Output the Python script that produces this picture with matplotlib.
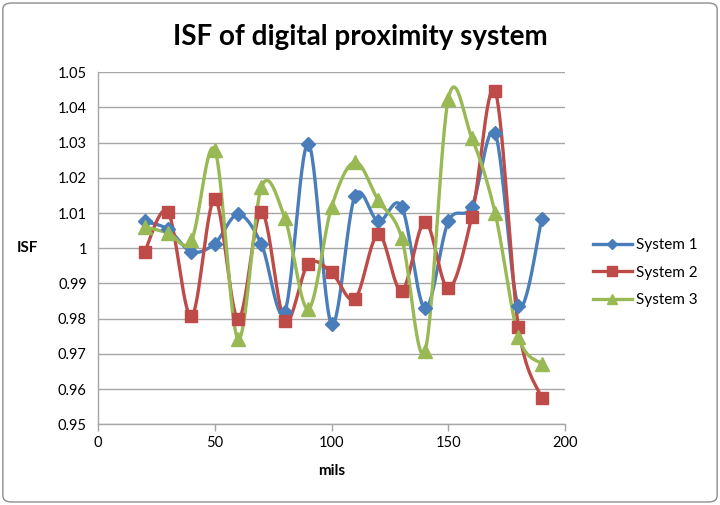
import numpy as np
import matplotlib
matplotlib.use("Agg")
import matplotlib.pyplot as plt
from matplotlib.patches import FancyBboxPatch

x_mils = [20, 30, 40, 50, 60, 70, 80, 90, 100, 110, 120, 130, 140, 150, 160, 170, 180, 190]
system1 = [1.0076, 1.0054, 0.9990, 1.0013, 1.0096, 1.0011, 0.9820, 1.0297, 0.9785, 1.0148,
           1.0076, 1.0118, 0.9829, 1.0076, 1.0118, 1.0326, 0.9837, 1.0084]
system2 = [0.9990, 1.0103, 0.9806, 1.0139, 0.9799, 1.0103, 0.9794, 0.9955, 0.9931, 0.9856,
           1.0040, 0.9879, 1.0075, 0.9886, 1.0089, 1.0446, 0.9775, 0.9574]
system3 = [1.0061, 1.0044, 1.0022, 1.0280, 0.9742, 1.0174, 1.0086, 0.9827, 1.0117, 1.0245,
           1.0136, 1.0030, 0.9708, 1.0425, 1.0314, 1.0100, 0.9749, 0.9671]
series_names = ["System 1", "System 2", "System 3"]
x_ticks = [0, 50, 100, 150, 200]
y_ticks = [0.95, 0.96, 0.97, 0.98, 0.99, 1.00, 1.01, 1.02, 1.03, 1.04, 1.05]
y_tick_labels = ["0.95", "0.96", "0.97", "0.98", "0.99", "1", "1.01", "1.02", "1.03", "1.04", "1.05"]

FONT = ["Lato", "DejaVu Sans"]
plt.rcParams["font.family"] = FONT


def smooth(xs, ys, n=30):
    xs = np.asarray(xs, float)
    ys = np.asarray(ys, float)
    px = np.concatenate([[xs[0]], xs, [xs[-1]]])
    py = np.concatenate([[ys[0]], ys, [ys[-1]]])
    ox, oy = [], []
    t = np.linspace(0, 1, n)
    for i in range(1, len(px) - 2):
        p0 = np.array([px[i], py[i]])
        p3 = np.array([px[i + 1], py[i + 1]])
        c1 = p0 + (np.array([px[i + 1], py[i + 1]]) - np.array([px[i - 1], py[i - 1]])) / 6
        c2 = p3 - (np.array([px[i + 2], py[i + 2]]) - np.array([px[i], py[i]])) / 6
        b = ((1 - t) ** 3)[:, None] * p0 + (3 * (1 - t) ** 2 * t)[:, None] * c1 \
            + (3 * (1 - t) * t ** 2)[:, None] * c2 + (t ** 3)[:, None] * p3
        ox.extend(b[:, 0]); oy.extend(b[:, 1])
    return ox, oy


fig = plt.figure(figsize=(7.2, 5.05), dpi=100)
border = FancyBboxPatch((0.004, 0.006), 0.992, 0.988, boxstyle="round,pad=0,rounding_size=0.012",
                        transform=fig.transFigure, fill=False, edgecolor="#8c8c8c", linewidth=1.0)
fig.patches.append(border)

ax = fig.add_axes([0.136, 0.160, 0.649, 0.697])

colors = ["#4A7EBB", "#BE4B48", "#98B954"]
markers = ["D", "s", "^"]
msizes = [7, 9, 10]
data = [system1, system2, system3]
handles = []
for ys, c, m, ms, name in zip(data, colors, markers, msizes, series_names):
    sx, sy = smooth(x_mils, ys)
    ax.plot(sx, sy, color=c, linewidth=2.4, solid_capstyle="round", zorder=3)
    ax.plot(x_mils, ys, linestyle="none", marker=m, markersize=ms, color=c, zorder=4)
    h, = ax.plot([], [], color=c, linewidth=2.4, marker=m, markersize=ms * 0.75)
    handles.append(h)

ax.set_xlim(0, 200)
ax.set_ylim(0.95, 1.05)
ax.set_xticks(x_ticks)
ax.set_yticks(y_ticks)
ax.set_yticklabels(y_tick_labels)
ax.yaxis.grid(True, color="#a6a6a6", linewidth=1.0)
ax.set_axisbelow(True)
for s in ["top", "right"]:
    ax.spines[s].set_visible(False)
for s in ["left", "bottom"]:
    ax.spines[s].set_color("#a6a6a6")
    ax.spines[s].set_linewidth(1.0)
ax.tick_params(axis="both", colors="#a6a6a6", labelcolor="black", labelsize=10.5, length=5, width=1)
ax.tick_params(axis="y", length=0, pad=8)

ax.set_xlabel("mils", fontsize=11, fontweight="bold", labelpad=10)
ax.set_ylabel("ISF", fontsize=11, fontweight="bold", rotation=0, labelpad=22, va="center")

fig.text(0.5, 0.927, "ISF of digital proximity system", ha="center", va="center",
         fontsize=20, fontweight="bold")

fig.legend(handles, series_names, loc="center left", bbox_to_anchor=(0.805, 0.46),
           frameon=False, fontsize=11, handlelength=2.5, labelspacing=0.9, handletextpad=0.3)

fig.savefig("out.png", dpi=100)
